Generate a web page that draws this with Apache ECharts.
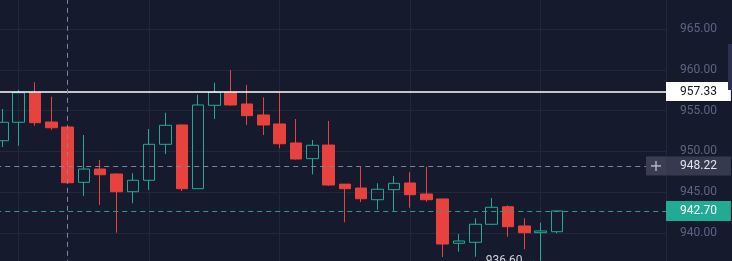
<!DOCTYPE html>
<html><head><meta charset="utf-8">
<script src="https://cdn.jsdelivr.net/npm/echarts@6/dist/echarts.min.js"></script>
<style>html,body{margin:0;padding:0;background:#161a2d;}#c{width:732px;height:261px;}</style>
</head><body><div id="c"></div>
<script>
// ---- data ----
const opens  = [951.31,953.57,957.19,953.60,952.99,946.21,947.84,947.23,945.06,946.46,950.87,953.24,945.43,955.65,957.24,955.81,954.46,953.36,951.03,949.11,950.78,945.99,945.51,944.08,945.31,946.13,944.78,944.17,938.74,938.86,941.07,943.22,940.86,940.04,940.16];
const closes = [953.57,957.19,953.52,952.90,946.16,947.84,947.14,945.06,946.46,950.87,953.20,945.43,955.69,957.24,955.69,954.38,953.24,950.94,949.07,950.75,945.88,945.43,944.20,945.36,946.09,944.69,944.08,938.65,939.02,941.07,943.15,940.77,940.04,940.25,942.70];
const lows   = [950.54,950.70,953.15,952.62,946.00,944.53,943.43,940.04,943.64,945.27,949.68,945.15,945.40,953.97,955.60,953.24,952.01,950.38,949.00,947.19,945.80,941.31,943.80,942.86,942.70,943.10,943.84,937.06,937.71,937.10,941.00,939.55,938.00,936.60,939.96];
const highs  = [955.20,957.52,958.47,956.70,953.10,952.01,948.95,947.30,947.32,952.75,954.74,953.30,956.95,958.42,959.98,958.14,956.63,957.19,953.97,951.40,953.73,946.00,948.12,946.09,946.99,947.44,948.12,944.20,939.88,941.80,944.29,943.39,941.80,941.26,942.70];
const yTicks = [940, 945, 950, 955, 960, 965];
const resistanceLevel = 957.33;
const crosshairPrice = 948.22;
const lastPrice = 942.70;
const crosshairCandle = 4;
const lowCandle = 33;

// ---- chart ----
const xOf = i => i - 1;
const candles = opens.map((o, i) => [xOf(i), o, closes[i], lows[i], highs[i]]);
const UP = '#22ab94', DOWN = '#e8423f';
const FONT = 'Roboto';
const fmt2 = v => Number(v).toFixed(2);

const chart = echarts.init(document.getElementById('c'), null, {renderer: 'canvas'});
const labelBase = {
  show: true, position: 'end', distance: 0, padding: [3, 14, 2, 14],
  fontSize: 12, fontFamily: FONT, lineHeight: 14,
  formatter: p => fmt2(p.value)
};
chart.setOption({
  backgroundColor: '#161a2d',
  animation: false,
  grid: {left: -111.77, right: 66, top: -11.8, bottom: -12.8, containLabel: false, outerBoundsMode: 'none'},
  xAxis: {
    type: 'value', min: -8, max: 39.69, interval: 8,
    axisLine: {show: false}, axisTick: {show: false}, axisLabel: {show: false},
    splitLine: {show: true, lineStyle: {color: '#222739', width: 1}}
  },
  yAxis: {
    type: 'value', position: 'right', min: 935, max: 970, interval: 5,
    axisLine: {show: false}, axisTick: {show: false},
    axisLabel: {
      color: '#5d6483', fontSize: 12, fontFamily: FONT, margin: 14, align: 'left',
      formatter: v => yTicks.includes(v) ? fmt2(v) : ''
    },
    splitLine: {show: true, lineStyle: {color: '#222739', width: 1}}
  },
  series: [{
    type: 'candlestick',
    data: candles,
    encode: {x: 0, y: [1, 2, 3, 4]},
    barWidth: 12,
    itemStyle: {color: 'transparent', color0: DOWN, borderColor: UP, borderColor0: DOWN, borderWidth: 1},
    markLine: {
      silent: true, symbol: ['none', 'none'], animation: false,
      data: [
        {yAxis: resistanceLevel, lineStyle: {color: '#ffffff', width: 1.5, type: 'solid'},
         label: Object.assign({}, labelBase, {backgroundColor: '#ffffff', color: '#131722'})},
        {yAxis: crosshairPrice, lineStyle: {color: '#80849a', width: 1, type: [5, 4]},
         label: Object.assign({}, labelBase, {backgroundColor: '#363a4e', color: '#e0e3eb', padding: [3, 14, 2, 14]})},
        {yAxis: lastPrice, lineStyle: {color: '#2a9d8f', width: 1, type: [5, 4], opacity: 1},
         label: Object.assign({}, labelBase, {backgroundColor: UP, color: '#ffffff', padding: [3, 14, 3, 14]})},
        {xAxis: xOf(crosshairCandle), lineStyle: {color: '#80849a', width: 1, type: [5, 4]}, label: {show: false}}
      ]
    },
    markPoint: {
      silent: true, symbol: 'circle', symbolSize: 0, animation: false,
      data: [{coord: [xOf(lowCandle), lows[lowCandle]], value: lows[lowCandle],
        label: {show: true, position: 'left', distance: 3, color: '#d1d4dc', fontSize: 12, fontFamily: FONT,
                formatter: p => fmt2(p.value) + ' \u2192'}}]
    }
  }]
});

const py = chart.convertToPixel({yAxisIndex: 0}, crosshairPrice);
chart.setOption({
  graphic: [
    {type: 'rect', z: 100, shape: {x: 646, y: py - 9.5, width: 20, height: 19}, style: {fill: '#3a3e52'}},
    {type: 'line', z: 101, shape: {x1: 651, y1: py, x2: 661, y2: py}, style: {stroke: '#b2b5be', lineWidth: 1.5}},
    {type: 'line', z: 101, shape: {x1: 656, y1: py - 5, x2: 656, y2: py + 5}, style: {stroke: '#b2b5be', lineWidth: 1.5}},
    {type: 'rect', z: 100, shape: {x: 728, y: 44, width: 4, height: 46}, style: {fill: '#2b3050'}}
  ]
});
</script></body></html>
